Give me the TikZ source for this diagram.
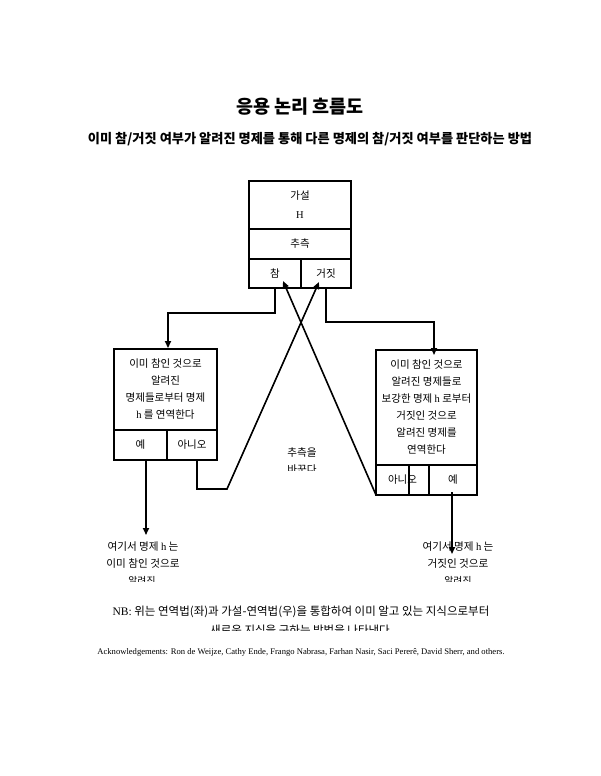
\documentclass[tikz,border=0pt]{standalone}
\usepackage{fontspec}
\setmainfont{Liberation Serif}
\newfontfamily\kr{Noto Sans CJK KR}
\usetikzlibrary{arrows.meta,calc}
\newcommand\lat[1]{{\rmfamily #1}}
\begin{document}
\begin{tikzpicture}[x=1pt,y=-1pt,
  box/.style={draw, line width=1.9pt, inner sep=0pt, align=center, font={\kr\fontsize{10.5}{17}\selectfont}},
  conn/.style={line width=1.6pt},
  arr/.style={conn, -{Triangle[width=6pt,length=7pt]}},
  txt/.style={inner sep=0pt, align=center, font={\kr\fontsize{10.6}{17}\selectfont}}]
\fill[white] (0,0) rectangle (600,776);
\useasboundingbox (0,0) rectangle (600,776);

% titles
\node[inner sep=0pt, font={\kr\bfseries\fontsize{18.5}{20}\selectfont}] (title) at (300,107) {응용 논리 흐름도};
\node[inner sep=0pt, font={\kr\bfseries\fontsize{13.2}{15}\selectfont}] (subtitle) at (310,139) {이미 참/거짓 여부가 알려진 명제를 통해 다른 명제의 참/거짓 여부를 판단하는 방법};

% top box
\node[box, minimum width=102pt, minimum height=48pt] (hyp) at (300,205) {가설\\[2pt]\lat{H}};
\node[box, minimum width=102pt, minimum height=30pt] (conj) at (300,244) {추측};
\node[box, minimum width=52pt, minimum height=29pt] (tru) at (275,273.5) {참};
\node[box, minimum width=50pt, minimum height=29pt] (fal) at (326,273.5) {거짓};

% left box
\node[box, minimum width=103pt, minimum height=81pt] (lq) at (165.5,389.5) {이미 참인 것으로\\알려진\\명제들로부터 명제\\\lat{h} 를 연역한다};
\node[box, minimum width=53pt, minimum height=30pt] (lyes) at (140.5,445) {예};
\node[box, minimum width=50pt, minimum height=30pt] (lno) at (192,445) {아니오};

% right box
\node[box, minimum width=101pt, minimum height=115pt] (rq) at (426.5,407.5) {이미 참인 것으로\\알려진 명제들로\\보강한 명제 \lat{h} 로부터\\거짓인 것으로\\알려진 명제를\\연역한다};
\node[box, minimum width=53pt, minimum height=30pt] (rno) at (402.5,480) {아니오};
\node[box, minimum width=48pt, minimum height=30pt] (ryes) at (453,480) {예};

% middle text (clipped)
\begin{scope}
\clip (250,435) rectangle (350,470);
\node[txt] (mid) at (302,461) {추측을\\바꾼다};
\end{scope}

% results
\node[txt] (lres) at (143,555) {여기서 명제 \lat{h} 는\\이미 참인 것으로};
\node[txt] (rres) at (458,555) {여기서 명제 \lat{h} 는\\거짓인 것으로};
\begin{scope}
\clip (80,570) rectangle (520,581);
\node[txt, font={\kr\fontsize{9.8}{11}\selectfont}] (lres3) at (142,581) {알려진};
\node[txt, font={\kr\fontsize{9.8}{11}\selectfont}] (rres3) at (458,581) {알려진};
\end{scope}

% connectors
\coordinate (k1) at (168,313);
\draw[arr] (tru.south) |- (k1) -- (k1 |- lq.north);
\coordinate (k2) at (434,322);
\coordinate (k2e) at (434,355);
\draw[arr] (fal.south) |- (k2) -- (k2e);
\coordinate (lys) at (146,460);
\coordinate (lye) at (146,535);
\draw[arr] (lys) -- (lye);
\coordinate (lns) at (197,460);
\coordinate (ln1) at (197,489);
\coordinate (ln2) at (227,489);
\coordinate (fe) at (319,282);
\draw[arr] (lns) -- (ln1) -- (ln2) -- (fe);
\coordinate (rns) at (409,466);
\coordinate (rn1) at (409,495);
\coordinate (rn2) at (376,495);
\coordinate (te) at (283,281);
\draw[arr] (rns) -- (rn1) -- (rn2) -- (te);
\coordinate (rys) at (452,492);
\coordinate (rye) at (452,554);
\draw[arr] (rys) -- (rye);

% NB
\node[txt, font={\kr\fontsize{11.5}{13}\selectfont}] (nb1) at (301,612) {\lat{NB:} 위는 연역법(좌)과 가설-연역법(우)을 통합하여 이미 알고 있는 지식으로부터};
\begin{scope}
\clip (80,620) rectangle (520,630.5);
\node[txt, font={\kr\fontsize{11.5}{13}\selectfont}] (nb2) at (300,630) {새로운 지식을 구하는 방법을 나타낸다};
\end{scope}

% acknowledgements
\node[inner sep=0pt, font={\fontsize{8.6}{10}\selectfont}] (ack) at (301,652) {Acknowledgements: Ron de Weijze, Cathy Ende, Frango Nabrasa, Farhan Nasir, Saci Pererê, David Sherr, and others.};
\end{tikzpicture}
\end{document}
